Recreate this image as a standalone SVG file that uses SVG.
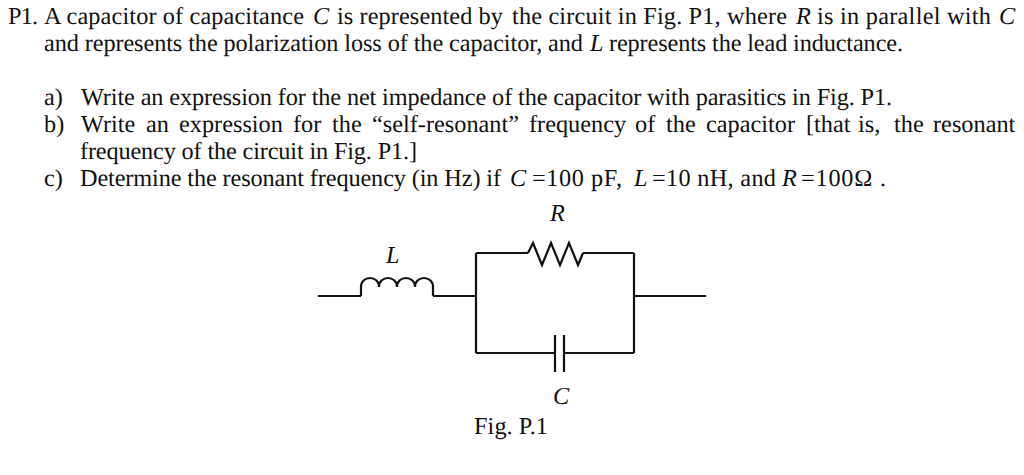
<svg xmlns="http://www.w3.org/2000/svg" width="1024" height="475" viewBox="0 0 1024 475">
<style>
text{font-family:"Liberation Serif","Times New Roman",serif;font-size:24.3px;fill:#111;text-rendering:geometricPrecision}
.i{font-style:italic}
.w{fill:none;stroke:#111;stroke-width:2.2}
</style>
<rect width="1024" height="475" fill="#fff"/>
<g id="problem-text">
<text x="8" y="24" textLength="30">P1.</text>
<text x="44" y="24" textLength="260">A capacitor of capacitance</text>
<text x="313" y="24" class="i">C</text>
<text x="337" y="24" textLength="166">is represented by</text>
<text x="512" y="24" textLength="275">the circuit in Fig. P1, where</text>
<text x="796" y="24" class="i">R</text>
<text x="817" y="24" textLength="174">is in parallel with</text>
<text x="999" y="24" class="i">C</text>
<text x="44" y="51" textLength="539">and represents the polarization loss of the capacitor, and</text>
<text x="590" y="51" class="i">L</text>
<text x="609" y="51" textLength="294">represents the lead inductance.</text>
<text x="44" y="105">a)</text>
<text x="81" y="105" textLength="811">Write an expression for the net impedance of the capacitor with parasitics in Fig. P1.</text>
<text x="44" y="132">b)</text>
<text y="132"><tspan x="81">Write</tspan><tspan x="146">an</tspan><tspan x="179">expression</tspan><tspan x="293">for</tspan><tspan x="332">the</tspan><tspan x="372">“self-resonant”</tspan><tspan x="529">frequency</tspan><tspan x="635">of</tspan><tspan x="666">the</tspan><tspan x="706">capacitor</tspan><tspan x="806">[that</tspan><tspan x="858">is,</tspan><tspan x="894">the</tspan><tspan x="933">resonant</tspan></text>
<text x="80" y="159" textLength="337">frequency of the circuit in Fig. P1.]</text>
<text x="44" y="186">c)</text>
<text x="80" y="186" textLength="421">Determine the resonant frequency (in Hz) if</text>
<text x="510" y="186" class="i">C</text>
<text x="532" y="186" textLength="90">=100 pF,</text>
<text x="634" y="186" class="i">L</text>
<text x="652" y="186" textLength="124">=10 nH, and</text>
<text x="782" y="186" class="i">R</text>
<text x="801" y="186" textLength="85">=100Ω .</text>
</g>
<g id="connectors">
<path class="w" d="M318 296H361M433 296H476M476 253V353M634 253V353M634 296H706"/>
<path class="w" d="M476 253H528M583 253H634"/>
<path class="w" d="M476 353H555M564 353H634"/>
</g>
<g id="inductor-L">
<path class="w" d="M361 296V287C361 275 379 275 379 287C379 275 397 275 397 287C397 275 415 275 415 287C415 275 433 275 433 287V296"/>
<text x="386" y="263" class="i">L</text>
</g>
<g id="resistor-R">
<path class="w" d="M528 253L533 243L542 265L551 243L560 265L569 243L578 265L583 253"/>
<text x="550" y="221" class="i">R</text>
</g>
<g id="capacitor-C">
<path class="w" d="M555 335V372M564 335V372"/>
<text x="553" y="404" class="i">C</text>
</g>
<g id="caption">
<text x="474" y="434" textLength="74">Fig. P.1</text>
</g>
</svg>
